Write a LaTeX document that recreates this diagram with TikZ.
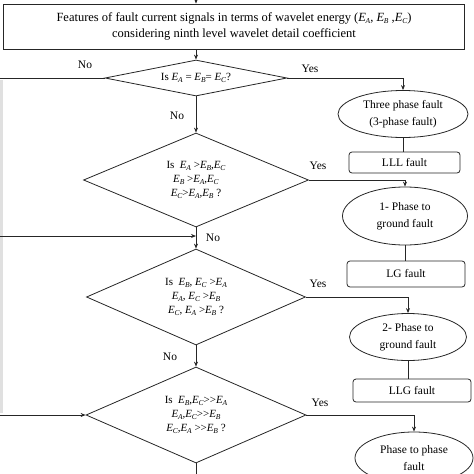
\documentclass[tikz,border=0pt]{standalone}
\usepackage{fontspec}
\setmainfont{Liberation Serif}
\usetikzlibrary{shapes.geometric,arrows.meta}
\newcommand\Ev[1]{\textit{E}\kern-0.2pt\raisebox{-0.35ex}{\fontsize{7.5}{8}\selectfont\textit{#1}}}
\newcommand\mygtgt{>{}>}
\begin{document}
\begin{tikzpicture}[x=1pt,y=-1pt,
  ln/.style={draw=black!85, line width=0.8pt},
  arr/.style={ln, -{Stealth[length=5pt,width=4pt]}},
  dec/.style={diamond, draw=black!85, line width=0.8pt, inner sep=0pt, align=center, font=\fontsize{11}{14}\selectfont},
  ell/.style={ellipse, draw=black!85, line width=0.8pt, inner sep=0pt, align=center, font=\fontsize{11.5}{17}\selectfont},
  res/.style={rectangle, rounded corners=3pt, draw=black!85, line width=0.8pt, inner sep=0pt, font=\fontsize{11.5}{13}\selectfont},
  lbl/.style={inner sep=0pt, font=\fontsize{11.5}{13}\selectfont}]
\useasboundingbox (0,0) rectangle (474,474);
\clip (0,0) rectangle (474,474);
\fill[black!12] (0,80) rectangle (2.5,413);
% top box
\node[rectangle, draw=black!85, line width=0.8pt, minimum width=461pt, minimum height=45pt, inner sep=0pt, align=center, font=\fontsize{12.5}{16}\selectfont] (top) at (234,26.5)
  {Features of fault current signals in terms of wavelet energy (\Ev{A}, \Ev{B} ,\Ev{C})\\considering ninth level wavelet detail coefficient};
% decisions
\node[dec, aspect=5, minimum width=182pt, minimum height=36pt] (d1) at (196,78) {Is \Ev{A} = \Ev{B}= \Ev{C}?};
\node[dec, aspect=2.4, minimum width=225pt, minimum height=94pt] (d2) at (196,180)
  {Is\ \ \Ev{A} >\Ev{B},\Ev{C}\\ \Ev{B} >\Ev{A},\Ev{C}\\ \Ev{C}>\Ev{A},\Ev{B} ?};
\node[dec, aspect=2.3, minimum width=219pt, minimum height=96pt] (d3) at (196,297)
  {Is\ \ \Ev{B}, \Ev{C} >\Ev{A}\\ \Ev{A}, \Ev{C} >\Ev{B}\\ \Ev{C}, \Ev{A} >\Ev{B} ?};
\node[dec, aspect=2.3, minimum width=220pt, minimum height=96pt] (d4) at (196,415)
  {Is\ \ \Ev{B},\Ev{C}\mygtgt\Ev{A}\\ \Ev{A},\Ev{C}\mygtgt\Ev{B}\\ \Ev{C},\Ev{A} \mygtgt\Ev{B} ?};
% results
\node[ell, minimum width=130pt, minimum height=47pt] (e1) at (403,114) {Three phase fault\\(3-phase fault)};
\node[res, minimum width=111pt, minimum height=21pt] (r1) at (404.5,162.5) {LLL fault};
\node[ell, minimum width=125pt, minimum height=58pt] (e2) at (405,216) {1- Phase to\\ground fault};
\node[res, minimum width=118pt, minimum height=26pt] (r2) at (406,274) {LG fault};
\node[ell, minimum width=117pt, minimum height=47pt] (e3) at (408,337) {2- Phase to\\ground fault};
\node[res, minimum width=118pt, minimum height=23pt] (r3) at (412,390.5) {LLG fault};
\node[ell, minimum width=118pt, minimum height=52pt] (e4) at (414,458) {Phase to phase\\fault};
% coordinates
\coordinate (t0) at (196,0);
\coordinate (l1) at (0,78);
\coordinate (l2) at (0,236);
\coordinate (l4) at (0,415);
\coordinate (b4) at (196,474);
% connectors
\draw[arr] (t0) -- (t0 |- top.north);
\draw[arr] (d1.north |- top.south) -- (d1.north);
\draw[ln] (d1.west) -- (l1);
\draw[arr] (d1.east) -| (e1.north);
\draw[ln] (e1.south) -- (e1.south |- r1.north);
\draw[arr] (d1.south) -- (d2.north);
\draw[arr] (d2.east) -| (e2.north);
\draw[ln] (e2.south) -- (e2.south |- r2.north);
\draw[arr] (d2.south) -- (d3.north);
\draw[arr] (l2) -- (d2.south |- l2);
\draw[arr] (d3.east) -| (e3.north);
\draw[ln] (e3.south) -- (e3.south |- r3.north);
\draw[arr] (d3.south) -- (d4.north);
\draw[arr] (l4) -- (d4.west);
\draw[arr] (d4.east) -| (e4.north);
\draw[ln] (d4.south) -- (b4);
% labels
\node[lbl] (n1) at (85,65) {No};
\node[lbl] (y1) at (310,69) {Yes};
\node[lbl] (n2) at (177,116) {No};
\node[lbl] (y2) at (318,166) {Yes};
\node[lbl] (n3) at (213,238) {No};
\node[lbl] (y3) at (318,284) {Yes};
\node[lbl] (n4) at (170,357) {No};
\node[lbl] (y4) at (320,403) {Yes};
\end{tikzpicture}
\end{document}
